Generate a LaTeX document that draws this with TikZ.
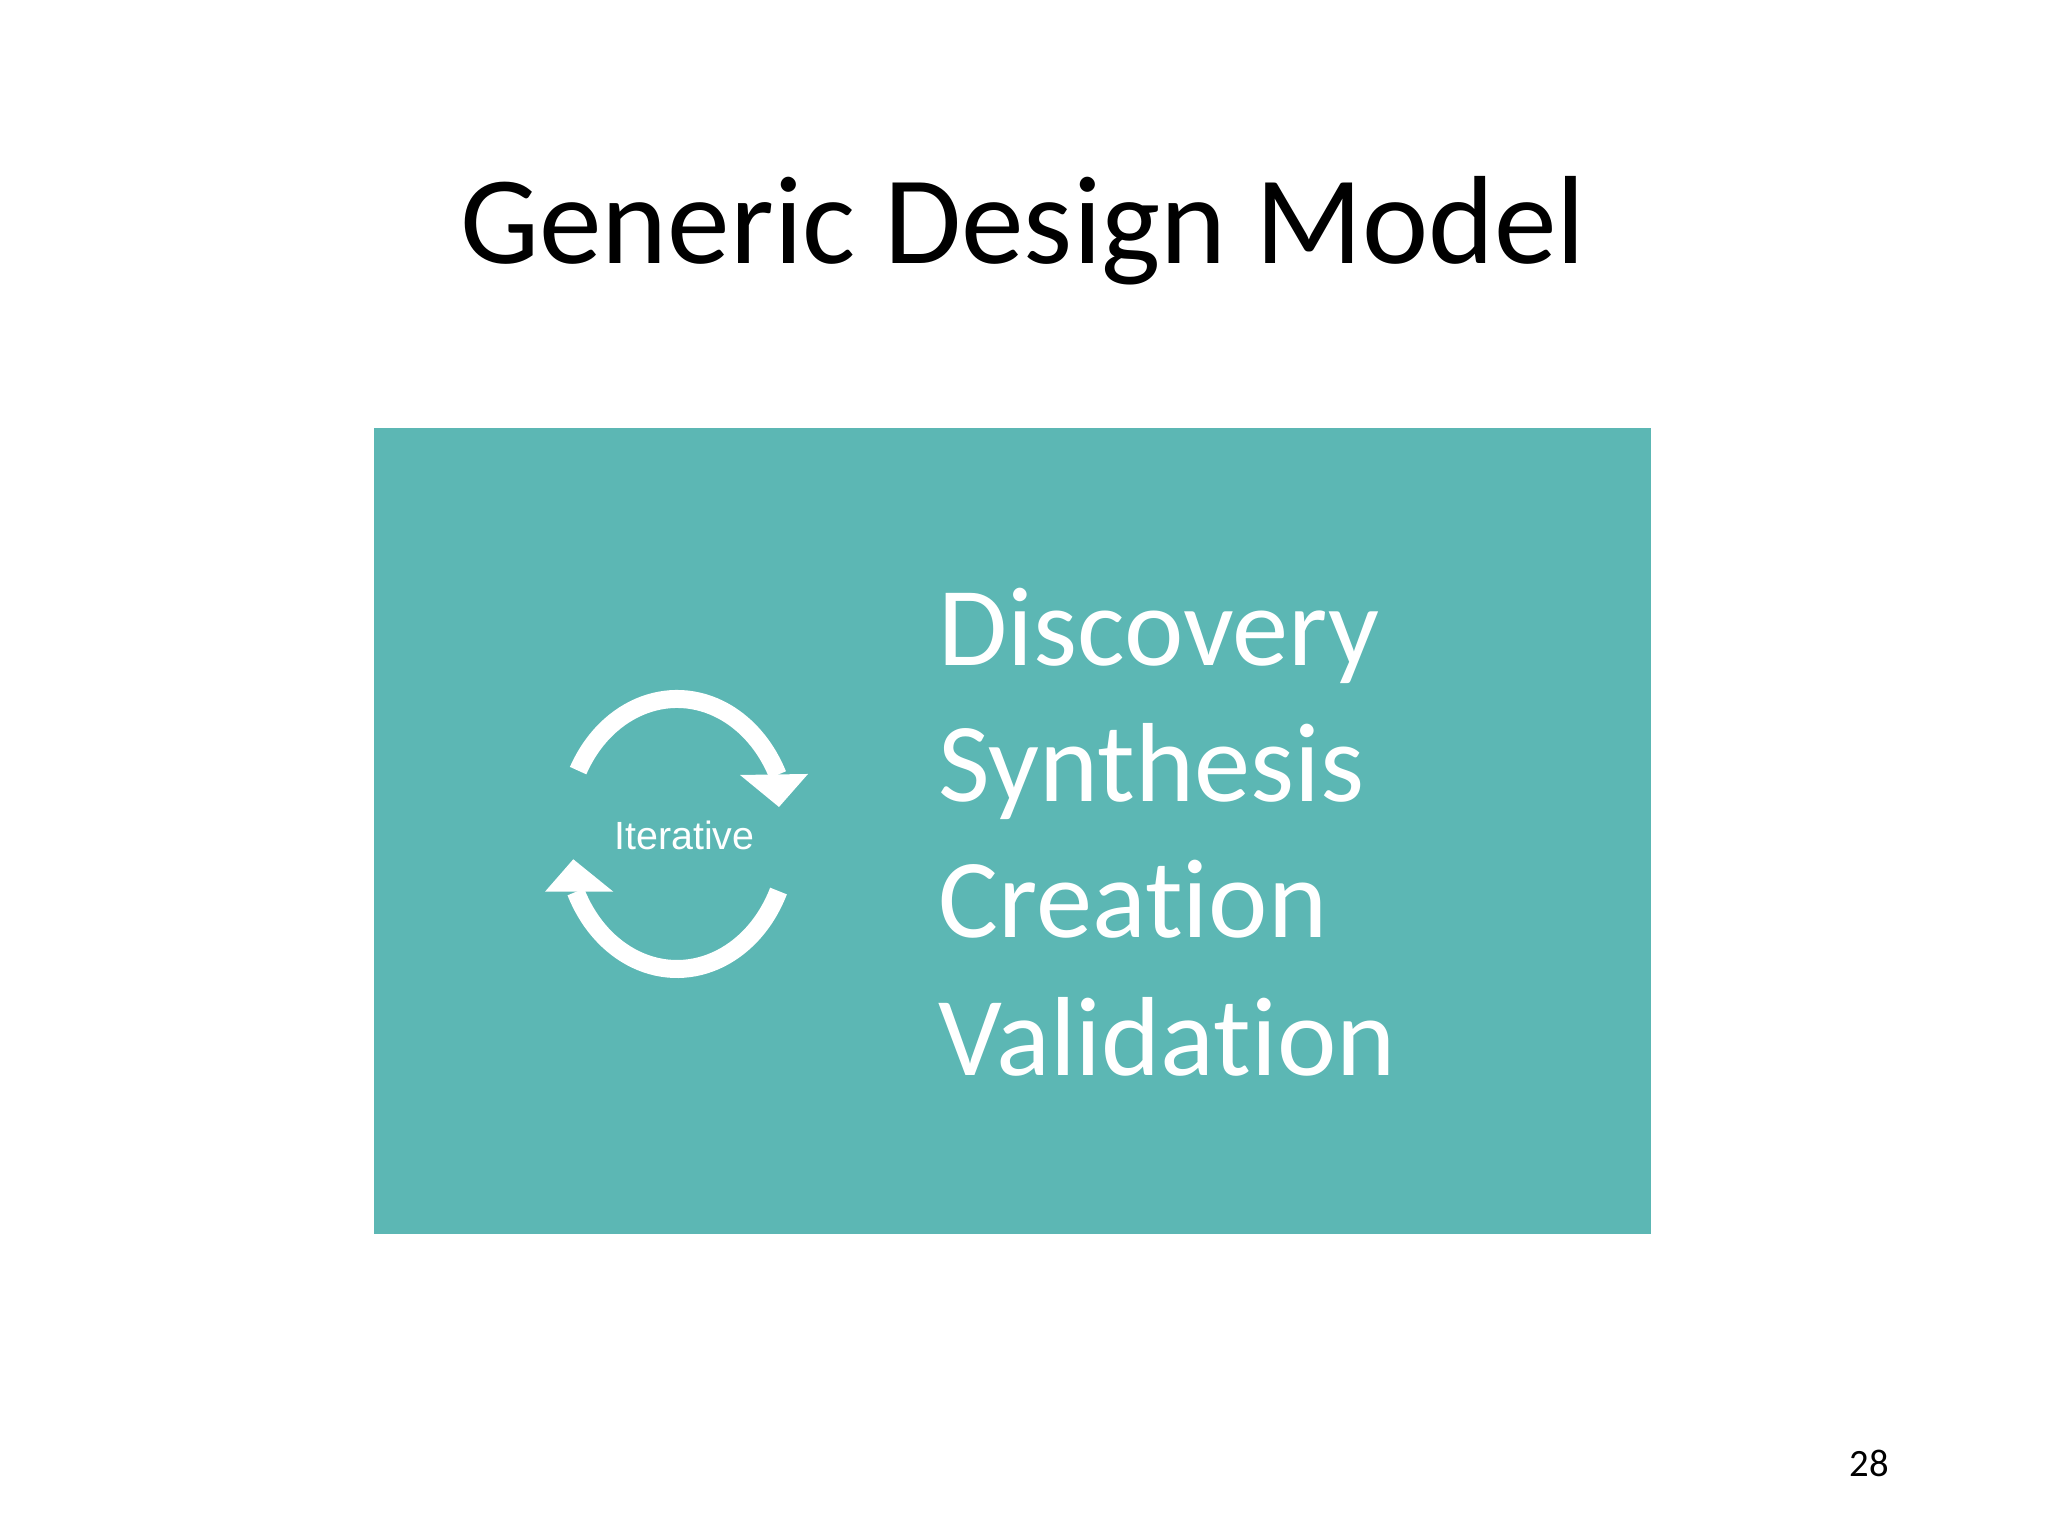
\documentclass[tikz,border=0pt]{standalone}
\usepackage{fontspec}
\setmainfont[Ligatures={NoCommon}]{Carlito}
\newfontfamily\arialfont{Liberation Sans}
\usetikzlibrary{positioning}
\definecolor{slideteal}{RGB}{92,183,180}

\tikzset{
  stage/.style={anchor=base west, text=white, inner sep=0pt, font=\fontsize{32}{38}\selectfont},
  looparc/.style={draw=white, line width=0.18cm},
  loophead/.style={fill=white, draw=none},
}

\begin{document}
\begin{tikzpicture}
    \useasboundingbox (0,0) rectangle (20.48,15.36);
    % title
    \node[anchor=base, inner sep=0pt, font=\fontsize{35.7}{43}\selectfont] (title) at (10.23,12.72) {Generic Design Model};
    % teal panel
    \fill[slideteal] (3.74,3.02) rectangle (16.51,11.08);
    % iteration loop
    \coordinate (cyc) at (6.77,7.02);
    \draw[looparc] (cyc) ++(152:1.12 and 1.35) arc[start angle=152, end angle=26, x radius=1.12, y radius=1.35];
    \fill[loophead] (7.40,7.61) -- (8.08,7.62) -- (7.79,7.29) -- cycle;
    \draw[looparc] (cyc) ++(-25:1.12 and 1.35) arc[start angle=-25, end angle=-154.6, x radius=1.12, y radius=1.35];
    \fill[loophead] (5.45,6.443) -- (6.133,6.443) -- (5.733,6.767) -- cycle;
    \node[anchor=base, inner sep=0pt, text=white, font=\arialfont\fontsize{11.2}{13}\selectfont] (iter) at (6.845,6.86) {Iterative};
    % stages
    \node[stage] (disc) at (9.38,8.70) {Discovery};
    \node[stage] (synth) at (9.38,7.34) {Synthesis};
    \node[stage] (creat) at (9.38,5.98) {Creation};
    \node[stage] (valid) at (9.38,4.60) {Validation};
    % slide number
    \node[anchor=base, inner sep=0pt, font=\fontsize{11}{13}\selectfont] (page) at (18.69,0.59) {28};
\end{tikzpicture}
\end{document}
